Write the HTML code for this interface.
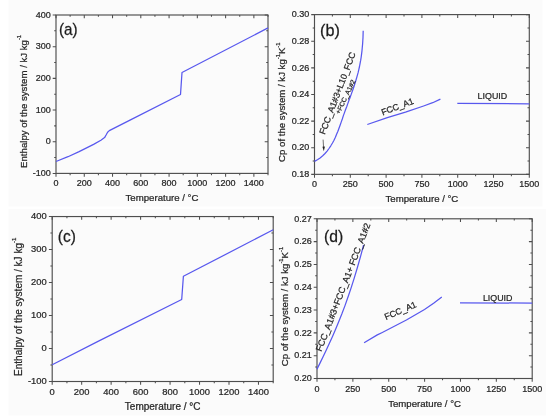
<!DOCTYPE html>
<html><head><meta charset="utf-8"><title>Figure</title>
<style>html,body{margin:0;padding:0;background:#fff}svg{display:block}</style></head>
<body><svg width="550" height="419" viewBox="0 0 550 419">
<rect x="0" y="0" width="550" height="419" fill="#fff"/>
<rect x="8.5" y="0" width="534" height="206.5" fill="#fbfbfb"/>
<rect x="8.5" y="209" width="537.5" height="206.5" fill="#fbfbfb"/>
<g style="filter:blur(0.55px)" font-family="'Liberation Sans', sans-serif" fill="#262626" stroke="#262626" stroke-width="0.24">
<rect x="56.00" y="15.00" width="212.00" height="158.40" fill="none" stroke="#4e4e4e" stroke-width="1.15"/>
<path d="M56.00 173.40v3.3M56.00 15.00v3.3M70.13 173.40v1.8M70.13 15.00v1.8M84.27 173.40v3.3M84.27 15.00v3.3M98.40 173.40v1.8M98.40 15.00v1.8M112.53 173.40v3.3M112.53 15.00v3.3M126.67 173.40v1.8M126.67 15.00v1.8M140.80 173.40v3.3M140.80 15.00v3.3M154.93 173.40v1.8M154.93 15.00v1.8M169.07 173.40v3.3M169.07 15.00v3.3M183.20 173.40v1.8M183.20 15.00v1.8M197.33 173.40v3.3M197.33 15.00v3.3M211.47 173.40v1.8M211.47 15.00v1.8M225.60 173.40v3.3M225.60 15.00v3.3M239.73 173.40v1.8M239.73 15.00v1.8M253.87 173.40v3.3M253.87 15.00v3.3M268.00 173.40v1.8M268.00 15.00v1.8M56.00 173.40h-3.3M268.00 173.40h-3.3M56.00 157.56h-1.8M268.00 157.56h-1.8M56.00 141.72h-3.3M268.00 141.72h-3.3M56.00 125.88h-1.8M268.00 125.88h-1.8M56.00 110.04h-3.3M268.00 110.04h-3.3M56.00 94.20h-1.8M268.00 94.20h-1.8M56.00 78.36h-3.3M268.00 78.36h-3.3M56.00 62.52h-1.8M268.00 62.52h-1.8M56.00 46.68h-3.3M268.00 46.68h-3.3M56.00 30.84h-1.8M268.00 30.84h-1.8M56.00 15.00h-3.3M268.00 15.00h-3.3" stroke="#4e4e4e" stroke-width="1.05" fill="none"/>
<text x="56.00" y="185.90" text-anchor="middle" font-size="9.0">0</text>
<text x="84.27" y="185.90" text-anchor="middle" font-size="9.0">200</text>
<text x="112.53" y="185.90" text-anchor="middle" font-size="9.0">400</text>
<text x="140.80" y="185.90" text-anchor="middle" font-size="9.0">600</text>
<text x="169.07" y="185.90" text-anchor="middle" font-size="9.0">800</text>
<text x="197.33" y="185.90" text-anchor="middle" font-size="9.0">1000</text>
<text x="225.60" y="185.90" text-anchor="middle" font-size="9.0">1200</text>
<text x="253.87" y="185.90" text-anchor="middle" font-size="9.0">1400</text>
<text x="50.80" y="176.12" text-anchor="end" font-size="9.0">-100</text>
<text x="50.80" y="144.44" text-anchor="end" font-size="9.0">0</text>
<text x="50.80" y="112.76" text-anchor="end" font-size="9.0">100</text>
<text x="50.80" y="81.08" text-anchor="end" font-size="9.0">200</text>
<text x="50.80" y="49.40" text-anchor="end" font-size="9.0">300</text>
<text x="50.80" y="17.72" text-anchor="end" font-size="9.0">400</text>
<text x="162.00" y="200.80" text-anchor="middle" font-size="9.65">Temperature / °C</text>
<text transform="translate(26.60 101.40) rotate(-90)" text-anchor="middle" font-size="9.65">Enthalpy of the system / kJ kg<tspan dy="-5.27" font-size="5.8">-1</tspan></text>
<text x="59.00" y="35.30" font-size="17" fill="#1c1c1c" stroke="#1c1c1c" stroke-width="0.26" textLength="18.6" lengthAdjust="spacingAndGlyphs">(a)</text>
<polyline points="56.00,161.50 68.00,156.70 79.10,151.60 93.60,144.40 100.90,140.20 104.60,137.60 106.20,134.80 107.60,132.20 109.30,130.60 130.00,120.10 180.50,94.50 182.00,72.50 268.00,27.90" fill="none" stroke="#5858ee" stroke-width="1.25" stroke-linejoin="round"/>
<rect x="314.50" y="14.60" width="214.80" height="159.75" fill="none" stroke="#4e4e4e" stroke-width="1.15"/>
<path d="M314.50 174.35v3.3M314.50 14.60v3.3M332.40 174.35v1.8M332.40 14.60v1.8M350.30 174.35v3.3M350.30 14.60v3.3M368.20 174.35v1.8M368.20 14.60v1.8M386.10 174.35v3.3M386.10 14.60v3.3M404.00 174.35v1.8M404.00 14.60v1.8M421.90 174.35v3.3M421.90 14.60v3.3M439.80 174.35v1.8M439.80 14.60v1.8M457.70 174.35v3.3M457.70 14.60v3.3M475.60 174.35v1.8M475.60 14.60v1.8M493.50 174.35v3.3M493.50 14.60v3.3M511.40 174.35v1.8M511.40 14.60v1.8M529.30 174.35v3.3M529.30 14.60v3.3M314.50 174.35h-3.3M529.30 174.35h-3.3M314.50 161.04h-1.8M529.30 161.04h-1.8M314.50 147.73h-3.3M529.30 147.73h-3.3M314.50 134.41h-1.8M529.30 134.41h-1.8M314.50 121.10h-3.3M529.30 121.10h-3.3M314.50 107.79h-1.8M529.30 107.79h-1.8M314.50 94.47h-3.3M529.30 94.47h-3.3M314.50 81.16h-1.8M529.30 81.16h-1.8M314.50 67.85h-3.3M529.30 67.85h-3.3M314.50 54.54h-1.8M529.30 54.54h-1.8M314.50 41.22h-3.3M529.30 41.22h-3.3M314.50 27.91h-1.8M529.30 27.91h-1.8M314.50 14.60h-3.3M529.30 14.60h-3.3" stroke="#4e4e4e" stroke-width="1.05" fill="none"/>
<text x="314.50" y="187.20" text-anchor="middle" font-size="9.0">0</text>
<text x="350.30" y="187.20" text-anchor="middle" font-size="9.0">250</text>
<text x="386.10" y="187.20" text-anchor="middle" font-size="9.0">500</text>
<text x="421.90" y="187.20" text-anchor="middle" font-size="9.0">750</text>
<text x="457.70" y="187.20" text-anchor="middle" font-size="9.0">1000</text>
<text x="493.50" y="187.20" text-anchor="middle" font-size="9.0">1250</text>
<text x="529.30" y="187.20" text-anchor="middle" font-size="9.0">1500</text>
<text x="309.30" y="177.07" text-anchor="end" font-size="9.0">0.18</text>
<text x="309.30" y="150.45" text-anchor="end" font-size="9.0">0.20</text>
<text x="309.30" y="123.82" text-anchor="end" font-size="9.0">0.22</text>
<text x="309.30" y="97.20" text-anchor="end" font-size="9.0">0.24</text>
<text x="309.30" y="70.57" text-anchor="end" font-size="9.0">0.26</text>
<text x="309.30" y="43.95" text-anchor="end" font-size="9.0">0.28</text>
<text x="309.30" y="17.32" text-anchor="end" font-size="9.0">0.30</text>
<text x="421.90" y="202.30" text-anchor="middle" font-size="9.65">Temperature / °C</text>
<text transform="translate(285.20 102.20) rotate(-90)" text-anchor="middle" font-size="9.65">Cp of the system / kJ kg<tspan dy="-5.27" font-size="5.8">-1</tspan><tspan dy="5.27">K</tspan><tspan dy="-5.27" font-size="5.8">-1</tspan></text>
<text x="320.10" y="35.60" font-size="17" fill="#1c1c1c" stroke="#1c1c1c" stroke-width="0.26" textLength="19.8" lengthAdjust="spacingAndGlyphs">(b)</text>
<polyline points="314.50,161.40 317.40,159.70 320.10,157.90 322.70,155.80 325.00,153.50 327.10,151.10 329.00,148.50 330.80,145.80 332.50,143.00 334.00,140.20 335.40,137.30 336.60,134.30 337.90,131.30 339.00,128.30 340.10,125.20 341.20,122.10 342.30,119.00 343.30,115.90 344.40,112.90 345.50,109.80 346.70,106.70 347.80,103.60 348.90,100.50 350.10,97.50 351.20,94.40 352.30,91.30 353.40,88.20 354.40,85.20 355.40,82.10 356.30,79.00 357.20,75.90 358.10,72.70 358.80,69.60 359.50,66.50 360.10,63.30 360.70,60.20 361.20,57.00 361.60,53.80 362.00,50.60 362.30,47.30 362.60,44.00 362.80,40.80 363.00,37.50 363.10,34.10 363.20,30.80" fill="none" stroke="#5858ee" stroke-width="1.25" stroke-linejoin="round"/>
<polyline points="367.30,124.50 387.30,117.60 405.50,112.20 423.60,106.00 432.70,102.70 440.40,99.10" fill="none" stroke="#5858ee" stroke-width="1.25" stroke-linejoin="round"/>
<polyline points="457.30,103.30 529.30,103.80" fill="none" stroke="#5858ee" stroke-width="1.25" stroke-linejoin="round"/>
<rect x="52.20" y="216.55" width="221.00" height="164.95" fill="none" stroke="#4e4e4e" stroke-width="1.15"/>
<path d="M52.20 381.50v3.3M52.20 216.55v3.3M66.93 381.50v1.8M66.93 216.55v1.8M81.67 381.50v3.3M81.67 216.55v3.3M96.40 381.50v1.8M96.40 216.55v1.8M111.13 381.50v3.3M111.13 216.55v3.3M125.87 381.50v1.8M125.87 216.55v1.8M140.60 381.50v3.3M140.60 216.55v3.3M155.33 381.50v1.8M155.33 216.55v1.8M170.07 381.50v3.3M170.07 216.55v3.3M184.80 381.50v1.8M184.80 216.55v1.8M199.53 381.50v3.3M199.53 216.55v3.3M214.27 381.50v1.8M214.27 216.55v1.8M229.00 381.50v3.3M229.00 216.55v3.3M243.73 381.50v1.8M243.73 216.55v1.8M258.47 381.50v3.3M258.47 216.55v3.3M273.20 381.50v1.8M273.20 216.55v1.8M52.20 381.50h-3.3M273.20 381.50h-3.3M52.20 365.00h-1.8M273.20 365.00h-1.8M52.20 348.51h-3.3M273.20 348.51h-3.3M52.20 332.01h-1.8M273.20 332.01h-1.8M52.20 315.52h-3.3M273.20 315.52h-3.3M52.20 299.02h-1.8M273.20 299.02h-1.8M52.20 282.53h-3.3M273.20 282.53h-3.3M52.20 266.04h-1.8M273.20 266.04h-1.8M52.20 249.54h-3.3M273.20 249.54h-3.3M52.20 233.05h-1.8M273.20 233.05h-1.8M52.20 216.55h-3.3M273.20 216.55h-3.3" stroke="#4e4e4e" stroke-width="1.05" fill="none"/>
<text x="52.20" y="394.50" text-anchor="middle" font-size="9.4">0</text>
<text x="81.67" y="394.50" text-anchor="middle" font-size="9.4">200</text>
<text x="111.13" y="394.50" text-anchor="middle" font-size="9.4">400</text>
<text x="140.60" y="394.50" text-anchor="middle" font-size="9.4">600</text>
<text x="170.07" y="394.50" text-anchor="middle" font-size="9.4">800</text>
<text x="199.53" y="394.50" text-anchor="middle" font-size="9.4">1000</text>
<text x="229.00" y="394.50" text-anchor="middle" font-size="9.4">1200</text>
<text x="258.47" y="394.50" text-anchor="middle" font-size="9.4">1400</text>
<text x="46.70" y="384.37" text-anchor="end" font-size="9.4">-100</text>
<text x="46.70" y="351.38" text-anchor="end" font-size="9.4">0</text>
<text x="46.70" y="318.39" text-anchor="end" font-size="9.4">100</text>
<text x="46.70" y="285.40" text-anchor="end" font-size="9.4">200</text>
<text x="46.70" y="252.41" text-anchor="end" font-size="9.4">300</text>
<text x="46.70" y="219.42" text-anchor="end" font-size="9.4">400</text>
<text x="162.70" y="410.40" text-anchor="middle" font-size="10.0">Temperature / °C</text>
<text transform="translate(21.50 306.80) rotate(-90)" text-anchor="middle" font-size="10.0">Enthalpy of the system / kJ kg<tspan dy="-5.40" font-size="6.0">-1</tspan></text>
<text x="57.80" y="241.80" font-size="17" fill="#1c1c1c" stroke="#1c1c1c" stroke-width="0.26" textLength="18.0" lengthAdjust="spacingAndGlyphs">(c)</text>
<polyline points="52.20,364.80 98.50,341.10 181.70,299.50 183.40,276.30 273.20,229.80" fill="none" stroke="#5858ee" stroke-width="1.25" stroke-linejoin="round"/>
<rect x="317.00" y="218.80" width="215.20" height="159.70" fill="none" stroke="#4e4e4e" stroke-width="1.15"/>
<path d="M317.00 378.50v3.3M317.00 218.80v3.3M334.93 378.50v1.8M334.93 218.80v1.8M352.87 378.50v3.3M352.87 218.80v3.3M370.80 378.50v1.8M370.80 218.80v1.8M388.73 378.50v3.3M388.73 218.80v3.3M406.67 378.50v1.8M406.67 218.80v1.8M424.60 378.50v3.3M424.60 218.80v3.3M442.53 378.50v1.8M442.53 218.80v1.8M460.47 378.50v3.3M460.47 218.80v3.3M478.40 378.50v1.8M478.40 218.80v1.8M496.33 378.50v3.3M496.33 218.80v3.3M514.27 378.50v1.8M514.27 218.80v1.8M532.20 378.50v3.3M532.20 218.80v3.3M317.00 378.50h-3.3M532.20 378.50h-3.3M317.00 367.09h-1.8M532.20 367.09h-1.8M317.00 355.69h-3.3M532.20 355.69h-3.3M317.00 344.28h-1.8M532.20 344.28h-1.8M317.00 332.87h-3.3M532.20 332.87h-3.3M317.00 321.46h-1.8M532.20 321.46h-1.8M317.00 310.06h-3.3M532.20 310.06h-3.3M317.00 298.65h-1.8M532.20 298.65h-1.8M317.00 287.24h-3.3M532.20 287.24h-3.3M317.00 275.84h-1.8M532.20 275.84h-1.8M317.00 264.43h-3.3M532.20 264.43h-3.3M317.00 253.02h-1.8M532.20 253.02h-1.8M317.00 241.61h-3.3M532.20 241.61h-3.3M317.00 230.21h-1.8M532.20 230.21h-1.8M317.00 218.80h-3.3M532.20 218.80h-3.3" stroke="#4e4e4e" stroke-width="1.05" fill="none"/>
<text x="317.00" y="391.80" text-anchor="middle" font-size="9.0">0</text>
<text x="352.87" y="391.80" text-anchor="middle" font-size="9.0">250</text>
<text x="388.73" y="391.80" text-anchor="middle" font-size="9.0">500</text>
<text x="424.60" y="391.80" text-anchor="middle" font-size="9.0">750</text>
<text x="460.47" y="391.80" text-anchor="middle" font-size="9.0">1000</text>
<text x="496.33" y="391.80" text-anchor="middle" font-size="9.0">1250</text>
<text x="532.20" y="391.80" text-anchor="middle" font-size="9.0">1500</text>
<text x="311.70" y="381.22" text-anchor="end" font-size="9.0">0.20</text>
<text x="311.70" y="358.41" text-anchor="end" font-size="9.0">0.21</text>
<text x="311.70" y="335.59" text-anchor="end" font-size="9.0">0.22</text>
<text x="311.70" y="312.78" text-anchor="end" font-size="9.0">0.23</text>
<text x="311.70" y="289.96" text-anchor="end" font-size="9.0">0.24</text>
<text x="311.70" y="267.15" text-anchor="end" font-size="9.0">0.25</text>
<text x="311.70" y="244.34" text-anchor="end" font-size="9.0">0.26</text>
<text x="311.70" y="221.52" text-anchor="end" font-size="9.0">0.27</text>
<text x="424.60" y="406.90" text-anchor="middle" font-size="9.65">Temperature / °C</text>
<text transform="translate(287.80 306.60) rotate(-90)" text-anchor="middle" font-size="9.65">Cp of the system / kJ kg<tspan dy="-5.27" font-size="5.8">-1</tspan><tspan dy="5.27">K</tspan><tspan dy="-5.27" font-size="5.8">-1</tspan></text>
<text x="324.00" y="241.70" font-size="17" fill="#1c1c1c" stroke="#1c1c1c" stroke-width="0.26" textLength="19.2" lengthAdjust="spacingAndGlyphs">(d)</text>
<polyline points="317.00,369.10 320.10,362.90 323.20,356.50 326.30,350.00 329.40,343.30 332.50,336.40 335.60,329.20 338.70,321.70 341.90,313.80 345.00,305.60 348.10,296.80 351.20,287.60 354.30,277.90 357.40,267.50 360.50,256.60 363.60,245.00" fill="none" stroke="#5858ee" stroke-width="1.25" stroke-linejoin="round"/>
<polyline points="364.10,342.70 377.30,334.90 381.80,332.70 406.40,320.00 424.50,309.50 433.60,303.30 441.80,296.90" fill="none" stroke="#5858ee" stroke-width="1.25" stroke-linejoin="round"/>
<polyline points="460.00,302.80 532.20,303.10" fill="none" stroke="#5858ee" stroke-width="1.25" stroke-linejoin="round"/>
<text transform="translate(324.8 135.0) rotate(-69.2)" font-size="8.9">FCC_A1#3+L10_FCC</text>
<text transform="translate(339.5 114.5) rotate(-64)" font-size="6.7">+FCC_A1#2</text>
<text transform="translate(382.7 115.5) rotate(-20.9)" font-size="8.8">FCC_A1</text>
<text x="477.6" y="99.3" font-size="8.9">LIQUID</text>
<path d="M323.1 139.6L323.6 148" stroke="#333" stroke-width="0.7" fill="none"/><path d="M322.4 146.7L324.9 146.6L323.85 151.2z" fill="#222" stroke="none"/>
<text transform="translate(321.3 352.1) rotate(-68.9)" font-size="9.02">FCC_A1#3+FCC_A1+ FCC_A1#2</text>
<text transform="translate(386 320) rotate(-22.8)" font-size="8.8">FCC_A1</text>
<text x="482.9" y="300.9" font-size="8.9">LIQUID</text>
</g>
</svg></body></html>
